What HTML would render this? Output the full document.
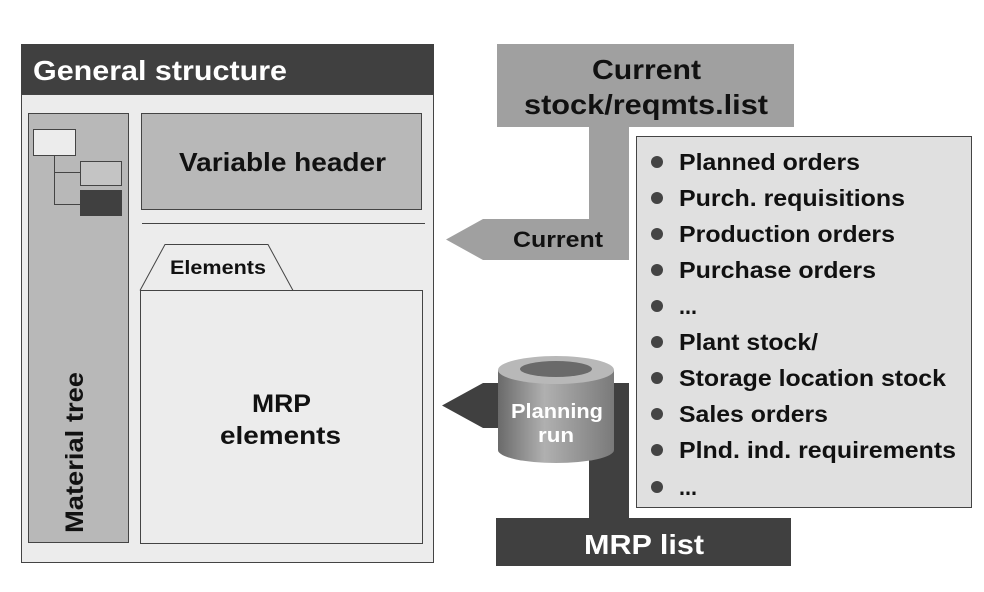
<!DOCTYPE html>
<html><head><meta charset="utf-8"><style>
html,body{margin:0;padding:0;background:#fff}
svg{display:block}
text{font-family:"Liberation Sans",Arial,sans-serif;font-weight:bold}
</style></head><body>
<svg width="984" height="592" viewBox="0 0 984 592" xmlns="http://www.w3.org/2000/svg">
<defs>
<linearGradient id="cyl" x1="0" x2="1" y1="0" y2="0">
<stop offset="0" stop-color="#6a6a6a"/><stop offset="0.4" stop-color="#b0b0b0"/><stop offset="1" stop-color="#7a7a7a"/>
</linearGradient>
</defs>
<rect x="21.5" y="94.5" width="412" height="468" fill="#ececec" stroke="#444"/>
<rect x="21" y="44" width="413" height="50" fill="#404040"/>
<text x="33" y="80" font-size="28" fill="#fff" textLength="254" lengthAdjust="spacingAndGlyphs">General structure</text>
<rect x="28.5" y="113.5" width="100" height="429" fill="#b8b8b8" stroke="#444"/>
<rect x="33.5" y="129.5" width="42" height="26" fill="#ececec" stroke="#444"/>
<path d="M54.5 155 V204.5 H80 M54.5 172.5 H80" fill="none" stroke="#444"/>
<rect x="80.5" y="161.5" width="41" height="24" fill="#c4c4c4" stroke="#444"/>
<rect x="80" y="190" width="42" height="26" fill="#404040"/>
<text transform="translate(83,533) rotate(-90)" font-size="25" fill="#111" textLength="161" lengthAdjust="spacingAndGlyphs">Material tree</text>
<rect x="141.5" y="113.5" width="280" height="96" fill="#b8b8b8" stroke="#444"/>
<text x="179" y="171" font-size="26" fill="#111" textLength="207" lengthAdjust="spacingAndGlyphs">Variable header</text>
<line x1="142" y1="223.5" x2="425" y2="223.5" stroke="#444"/>
<path d="M140 290.5 L165 244.5 H268 L293 290.5" fill="#ececec" stroke="#444"/>
<text x="170" y="274" font-size="19" fill="#111" textLength="96" lengthAdjust="spacingAndGlyphs">Elements</text>
<rect x="140.5" y="290.5" width="282" height="253" fill="#ececec" stroke="#444"/>
<text x="252" y="412" font-size="25" fill="#111" textLength="59" lengthAdjust="spacingAndGlyphs">MRP</text>
<text x="220" y="444" font-size="25" fill="#111" textLength="121" lengthAdjust="spacingAndGlyphs">elements</text>
<rect x="497" y="44" width="297" height="83" fill="#a0a0a0"/>
<text x="592" y="79" font-size="28" fill="#111" textLength="109" lengthAdjust="spacingAndGlyphs">Current</text>
<text x="524" y="114" font-size="28" fill="#111" textLength="244" lengthAdjust="spacingAndGlyphs">stock/reqmts.list</text>
<path d="M589 127 H629 V260 H483 L446 239.5 L483 219 H589 Z" fill="#a0a0a0"/>
<text x="513" y="247" font-size="22" fill="#111" textLength="90" lengthAdjust="spacingAndGlyphs">Current</text>
<path d="M483 383 H629 V520 H589 V428 H483 L442 405.5 Z" fill="#404040"/>
<rect x="496" y="518" width="295" height="48" fill="#404040"/>
<text x="584" y="554" font-size="28" fill="#fff" textLength="120" lengthAdjust="spacingAndGlyphs">MRP list</text>
<path d="M498 370 V450 A58 13 0 0 0 614 450 V370 Z" fill="url(#cyl)"/>
<ellipse cx="556" cy="370" rx="58" ry="14" fill="#b8b8b8"/>
<ellipse cx="556" cy="369" rx="36" ry="8" fill="#6a6a6a"/>
<text x="511" y="418" font-size="20" fill="#fff" textLength="92" lengthAdjust="spacingAndGlyphs">Planning</text>
<text x="538" y="442" font-size="20" fill="#fff" textLength="36" lengthAdjust="spacingAndGlyphs">run</text>
<rect x="636.5" y="136.5" width="335" height="371" fill="#e0e0e0" stroke="#444"/>
<g font-size="23" fill="#111" lengthAdjust="spacingAndGlyphs">
<circle cx="657" cy="162" r="6" fill="#444"/><text x="679" y="170" textLength="181" lengthAdjust="spacingAndGlyphs">Planned orders</text>
<circle cx="657" cy="198" r="6" fill="#444"/><text x="679" y="206" textLength="226" lengthAdjust="spacingAndGlyphs">Purch. requisitions</text>
<circle cx="657" cy="234" r="6" fill="#444"/><text x="679" y="242" textLength="216" lengthAdjust="spacingAndGlyphs">Production orders</text>
<circle cx="657" cy="270" r="6" fill="#444"/><text x="679" y="278" textLength="197" lengthAdjust="spacingAndGlyphs">Purchase orders</text>
<circle cx="657" cy="306" r="6" fill="#444"/><text x="679" y="314" textLength="18" lengthAdjust="spacingAndGlyphs">...</text>
<circle cx="657" cy="342" r="6" fill="#444"/><text x="679" y="350" textLength="139" lengthAdjust="spacingAndGlyphs">Plant stock/</text>
<circle cx="657" cy="378" r="6" fill="#444"/><text x="679" y="386" textLength="267" lengthAdjust="spacingAndGlyphs">Storage location stock</text>
<circle cx="657" cy="414" r="6" fill="#444"/><text x="679" y="422" textLength="149" lengthAdjust="spacingAndGlyphs">Sales orders</text>
<circle cx="657" cy="450" r="6" fill="#444"/><text x="679" y="458" textLength="277" lengthAdjust="spacingAndGlyphs">Plnd. ind. requirements</text>
<circle cx="657" cy="487" r="6" fill="#444"/><text x="679" y="495" textLength="18" lengthAdjust="spacingAndGlyphs">...</text>
</g>
</svg>
</body></html>
